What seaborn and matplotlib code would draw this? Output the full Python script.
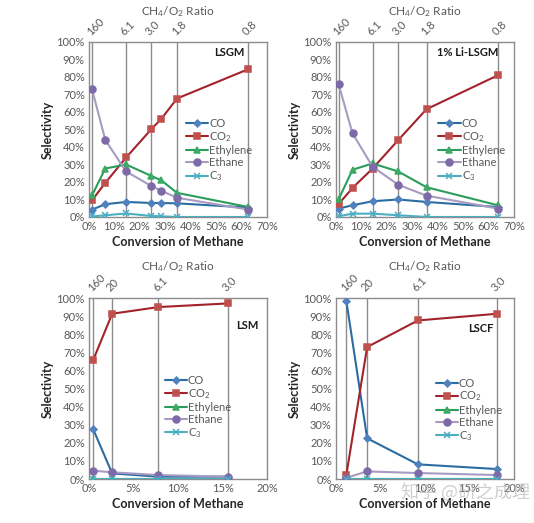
import pandas as pd
import matplotlib
matplotlib.use("Agg")
import matplotlib.pyplot as plt
import seaborn as sns

# ---- data (selectivity in %, conversion in %) ----
species = ["CO", "CO$_2$", "Ethylene", "Ethane", "C$_3$"]

# LSGM
lsgm_conv = [1.2, 6.4, 14.6, 24.4, 28.4, 34.6, 62.7]
lsgm_co = [4.2, 7.3, 8.6, 8.0, 8.0, 7.8, 5.4]
lsgm_co2 = [9.6, 19.5, 34.0, 50.0, 56.0, 67.7, 84.5]
lsgm_ethylene = [12.4, 27.7, 30.0, 23.5, 21.0, 13.8, 5.7]
lsgm_ethane = [73.0, 44.0, 26.0, 17.8, 15.0, 11.0, 4.2]
lsgm_c3 = [0.3, 1.0, 2.0, 0.6, 0.4, 0.0, 0.0]
lsgm_ratio_pos = [1.2, 14.6, 24.4, 34.6, 62.7]
lsgm_ratio_lab = ["160", "6.1", "3.0", "1.8", "0.8"]

# 1% Li-LSGM
li_conv = [1.0, 6.5, 14.4, 24.5, 35.6, 63.7]
li_co = [4.8, 6.7, 9.0, 10.0, 8.6, 5.7]
li_co2 = [7.3, 16.6, 27.7, 44.0, 61.6, 81.0]
li_ethylene = [10.0, 27.0, 30.6, 26.0, 17.0, 6.7]
li_ethane = [76.0, 47.8, 28.7, 18.4, 12.2, 4.8]
li_c3 = [0.4, 1.9, 1.9, 1.0, 0.0, 0.0]
li_ratio_pos = [1.0, 14.4, 24.5, 35.6, 63.7]
li_ratio_lab = ["160", "6.1", "3.0", "1.8", "0.8"]

# LSM
lsm_conv = [0.45, 2.6, 7.8, 15.6]
lsm_co = [27.7, 3.1, 1.3, 1.3]
lsm_co2 = [65.5, 91.3, 95.0, 97.0]
lsm_ethylene = [0.0, 0.0, 0.0, 0.0]
lsm_ethane = [4.6, 3.7, 2.2, 1.3]
lsm_c3 = [0.0, 0.0, 0.0, 0.0]
lsm_ratio_pos = [0.45, 2.6, 7.8, 15.6]
lsm_ratio_lab = ["160", "20", "6.1", "3.0"]

# LSCF
lscf_conv = [1.16, 3.5, 9.2, 18.1]
lscf_co = [98.5, 22.5, 8.1, 5.5]
lscf_co2 = [2.2, 72.9, 87.6, 91.3]
lscf_ethylene = [0.0, 0.0, 0.0, 0.0]
lscf_ethane = [0.7, 4.2, 3.3, 2.2]
lscf_c3 = [0.0, 0.0, 0.0, 0.0]
lscf_ratio_pos = [1.16, 3.5, 9.2, 18.1]
lscf_ratio_lab = ["160", "20", "6.1", "3.0"]

# ---- styles ----
line_colors = ["#2B6CA3", "#A3232B", "#2A9D5C", "#A89BC2", "#4BAFC0"]
marker_colors = ["#4F81BD", "#C0504D", "#3DAA66", "#7E6AA8", "#4BACC6"]
markers = ["D", "s", "^", "o", "x"]
marker_sizes = [3.5, 4, 4.5, 5, 5]

panels = [
    ("LSGM", lsgm_conv, [lsgm_co, lsgm_co2, lsgm_ethylene, lsgm_ethane, lsgm_c3],
     lsgm_ratio_pos, lsgm_ratio_lab, 70, 10, (0.79, 0.94), (0.52, 0.59)),
    ("1% Li-LSGM", li_conv, [li_co, li_co2, li_ethylene, li_ethane, li_c3],
     li_ratio_pos, li_ratio_lab, 70, 10, (0.74, 0.94), (0.55, 0.59)),
    ("LSM", lsm_conv, [lsm_co, lsm_co2, lsm_ethylene, lsm_ethane, lsm_c3],
     lsm_ratio_pos, lsm_ratio_lab, 20, 5, (0.89, 0.85), (0.40, 0.60)),
    ("LSCF", lscf_conv, [lscf_co, lscf_co2, lscf_ethylene, lscf_ethane, lscf_c3],
     lscf_ratio_pos, lscf_ratio_lab, 20, 5, (0.815, 0.83), (0.535, 0.585)),
]

sns.set_style("white")
plt.rcParams["font.family"] = ["Lato", "DejaVu Sans"]
plt.rcParams["mathtext.fontset"] = "custom"
plt.rcParams["mathtext.rm"] = "Lato"
plt.rcParams["mathtext.it"] = "Lato:italic"

fig = plt.figure(figsize=(5.34, 5.23), dpi=100)
boxes = [
    [0.1667, 0.5851, 0.3333, 0.3346],
    [0.6292, 0.5851, 0.3333, 0.3346],
    [0.1667, 0.0841, 0.3333, 0.3461],
    [0.6292, 0.0841, 0.3333, 0.3461],
]

grey = "#595959"

for box, (name, conv, series, rpos, rlab, xmax, xstep, name_xy, leg_xy) in zip(boxes, panels):
    ax = fig.add_axes(box)

    # vertical lines at the CH4/O2 ratio points
    for p in rpos:
        ax.axvline(p, color="#8C8C8C", lw=1.0, zorder=1)

    for i, vals in enumerate(series):
        sns.lineplot(
            x=conv, y=vals, ax=ax, sort=False,
            color=line_colors[i], lw=1.5, marker=markers[i],
            markersize=marker_sizes[i], markerfacecolor=marker_colors[i],
            markeredgecolor=marker_colors[i], markeredgewidth=1.1,
            label=species[i], zorder=3,
        )

    ax.set_xlim(0, xmax)
    ax.set_ylim(0, 100)
    ax.set_xticks(range(0, xmax + 1, xstep))
    ax.set_xticklabels([f"{v}%" for v in range(0, xmax + 1, xstep)])
    ax.set_yticks(range(0, 101, 10))
    ax.set_yticklabels([f"{v}%" for v in range(0, 101, 10)])
    ax.tick_params(labelsize=8, colors=grey, length=0, pad=3)
    for s in ax.spines.values():
        s.set_color("#8C8C8C")
        s.set_linewidth(1.0)

    ax.set_xlabel("Conversion of Methane", fontsize=9, fontweight="bold", color="#262626", labelpad=3)
    ax.set_ylabel("Selectivity", fontsize=9, fontweight="bold", color="#262626", labelpad=2)

    ax.text(name_xy[0], name_xy[1], name, transform=ax.transAxes, ha="center", va="center",
            fontsize=8, fontweight="bold", color="#1a1a1a")

    leg = ax.legend(loc="upper left", bbox_to_anchor=leg_xy, frameon=False, fontsize=8,
                    handlelength=2.0, handletextpad=0.1, labelspacing=0.1, borderaxespad=0)
    for t in leg.get_texts():
        t.set_color(grey)

    top = ax.twiny()
    top.set_xlim(ax.get_xlim())
    top.set_xticks(rpos)
    top.set_xticklabels(rlab, rotation=45, ha="left", rotation_mode="anchor")
    top.tick_params(labelsize=8, colors=grey, length=0, pad=3.5)
    for s in top.spines.values():
        s.set_visible(False)
    # ratio axis title sits above the rotated labels
    ax.text(0.5, 1.175, "CH$_4$/O$_2$ Ratio", transform=ax.transAxes, ha="center", va="center",
            fontsize=8.5, color=grey)

fig.text(0.871, 0.059, "知乎 @研之成理", fontsize=13, color="#b0b0b0", alpha=0.6,
         ha="center", va="center", family=["Noto Sans CJK SC", "DejaVu Sans"])

fig.savefig("out.png", dpi=100, facecolor="white")
